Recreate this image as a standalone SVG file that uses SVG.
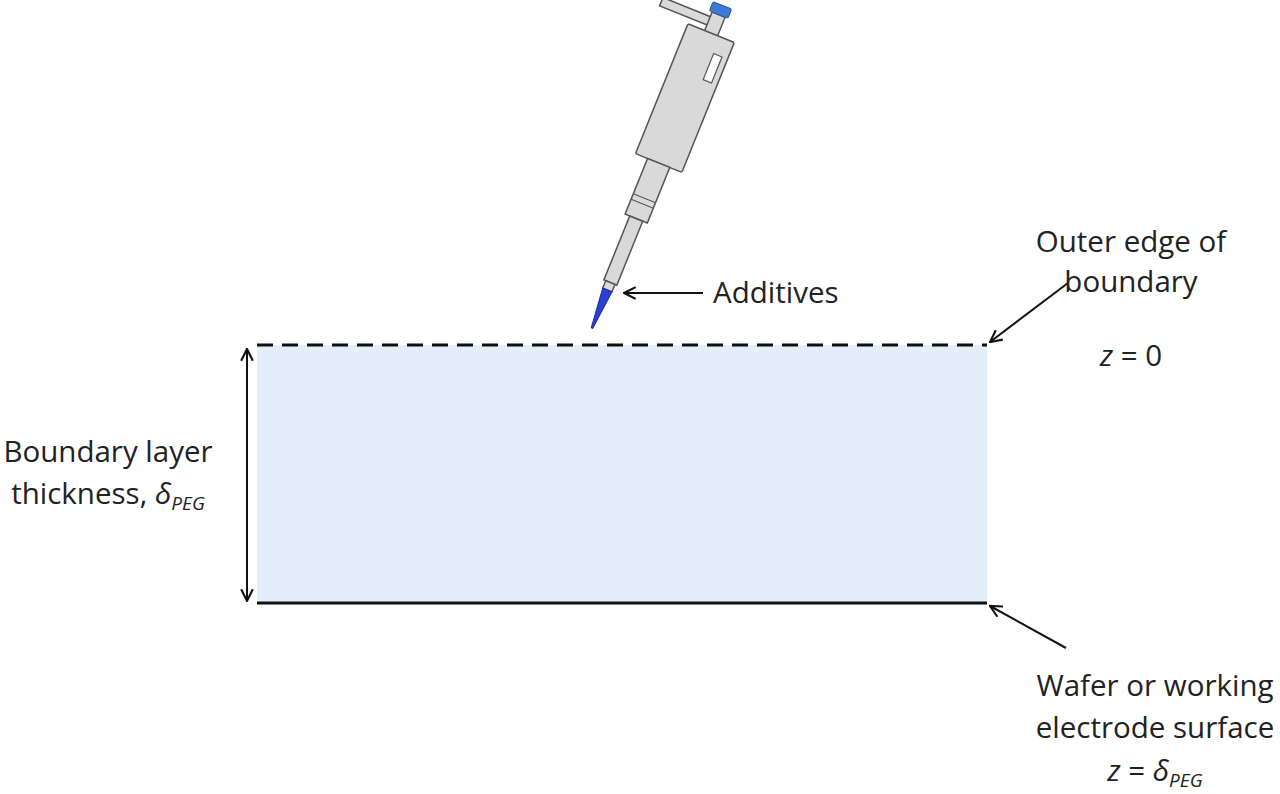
<svg xmlns="http://www.w3.org/2000/svg" width="1280" height="794" viewBox="0 0 1280 794">
<style>
text{font-family:"Open Sans","Noto Sans",sans-serif;font-size:29.5px;fill:#222}
.c{stroke:#111;stroke-width:2;fill:none}
.p{stroke:#555;stroke-width:1.5;fill:#d9d9d9}
</style>
<defs>
<marker id="a" viewBox="0 0 12 12" refX="11" refY="6" markerWidth="14" markerHeight="14" markerUnits="userSpaceOnUse" orient="auto-start-reverse"><path d="M1 1L11 6L1 11" fill="none" stroke="#111" stroke-width="1.8"/></marker>
<linearGradient id="g" x1="0" x2="1"><stop offset="0" stop-color="#c8c8c8"/><stop offset="0.5" stop-color="#eeeeee"/><stop offset="1" stop-color="#bdbdbd"/></linearGradient>
</defs>
<rect width="1280" height="794" fill="#fff"/>
<g id="layer"><rect x="257" y="345" width="730" height="258" fill="#e4eefa"/>
<line x1="257" y1="345" x2="987" y2="345" stroke="#111" stroke-width="3" stroke-dasharray="16,9"/>
<line x1="257" y1="603" x2="987" y2="603" stroke="#111" stroke-width="3"/></g>
<g id="pipette" transform="translate(592,328) rotate(22)">
<rect x="-58" y="-333" width="52" height="9" class="p"/>
<rect x="-7" y="-338" width="14" height="22" class="p" fill="url(#g)"/>
<rect x="-10" y="-348" width="20" height="10" rx="2" fill="#3a7bd5" stroke="#2a5a9a"/>
<rect x="-25" y="-318" width="50" height="140" rx="2" class="p" fill="url(#g)"/>
<rect x="10" y="-300" width="9" height="28" fill="#fff" stroke="#555" stroke-width="1.2"/>
<rect x="-12" y="-178" width="24" height="60" class="p" fill="url(#g)"/>
<line x1="-12" y1="-140" x2="12" y2="-140" stroke="#555"/><line x1="-12" y1="-134" x2="12" y2="-134" stroke="#555"/>
<rect x="-7" y="-118" width="14" height="69" class="p" fill="url(#g)"/>
<rect x="-5" y="-49" width="10" height="8" class="p"/>
<path d="M-5 -41 L5 -41 L0.8 0 L-0.8 0 Z" fill="#2b3fd6" stroke="#1a2aa0" stroke-width="1"/>
</g>
<g id="connectors">
<line x1="247" y1="349" x2="247" y2="601" class="c" marker-start="url(#a)" marker-end="url(#a)"/>
<line x1="703" y1="293" x2="624" y2="293" class="c" marker-end="url(#a)"/>
<line x1="1068" y1="283" x2="990" y2="342" class="c" marker-end="url(#a)"/>
<line x1="1066" y1="648" x2="990" y2="606" class="c" marker-end="url(#a)"/>
</g>
<g id="labels">
<text x="713" y="303">Additives</text>
<text x="1131" y="252" text-anchor="middle">Outer edge of</text>
<text x="1131" y="292" text-anchor="middle">boundary</text>
<text x="1131" y="366" text-anchor="middle"><tspan font-style="italic">z</tspan> = 0</text>
<text x="108" y="462" text-anchor="middle">Boundary layer</text>
<text x="108" y="504" text-anchor="middle">thickness, <tspan font-style="italic">δ</tspan><tspan font-style="italic" font-size="19" dy="6">PEG</tspan></text>
<text x="1155" y="696" text-anchor="middle">Wafer or working</text>
<text x="1155" y="738" text-anchor="middle">electrode surface</text>
<text x="1155" y="781" text-anchor="middle"><tspan font-style="italic">z</tspan> = <tspan font-style="italic">δ</tspan><tspan font-style="italic" font-size="19" dy="6">PEG</tspan></text>
</g>
</svg>
